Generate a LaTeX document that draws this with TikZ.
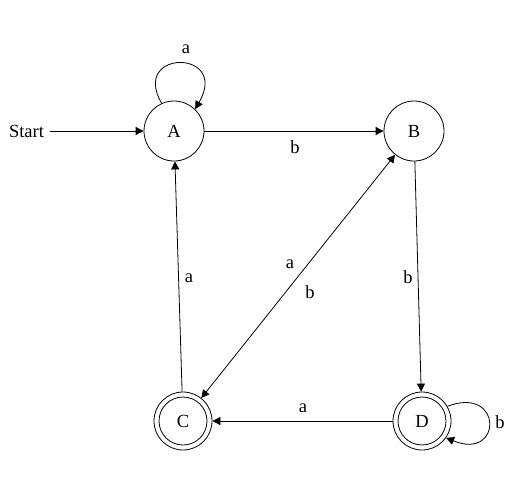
\documentclass[tikz,border=0pt]{standalone}
\usepackage{fontspec}
\setmainfont{Liberation Serif}
\usetikzlibrary{arrows.meta}
\begin{document}
\begin{tikzpicture}[x=1pt,y=-1pt,
  every node/.style={font=\fontsize{18.5}{22}\selectfont},
  ring/.style={draw,circle,inner sep=0pt,line width=0.8pt},
  lbl/.style={inner sep=0pt},
  edge/.style={line width=0.8pt,-{Triangle[length=8pt,width=8pt]}}]
\useasboundingbox (0,0) rectangle (532,480);
\fill[white] (0,0) rectangle (532,480);
\node[ring,minimum size=60pt] (A) at (174,131) {A};
\node[ring,minimum size=60pt] (B) at (414,131) {B};
\node[ring,minimum size=58pt] (C) at (183,421) {};
\node[ring,minimum size=48pt] (Ci) at (183,421) {C};
\node[ring,minimum size=58pt] (D) at (422,421) {};
\node[ring,minimum size=48pt] (Di) at (422,421) {D};
\node[lbl] (start) at (26.5,131) {Start};
\coordinate (s0) at (50,131);
\draw[edge] (s0) -- (A);
\draw[edge] (A) -- (B);
\draw[edge] (B) -- (D);
\draw[edge] (D) -- (C);
\draw[edge] (C) -- (A);
\draw[edge,{Triangle[length=8pt,width=8pt]}-{Triangle[length=8pt,width=8pt]}] (C) -- (B);
\draw[edge] (A.114) .. controls (130,49) and (230,49) .. (A.46);
\draw[edge] (D.30) .. controls (503,385) and (503,461) .. (D.-35);
\node[lbl] (la) at (186,49) {a};
\node[lbl] (lab) at (295,147) {b};
\node[lbl] (lbd) at (408,277) {b};
\node[lbl] (ldc) at (303,408) {a};
\node[lbl] (lca) at (189,278) {a};
\node[lbl] (lcb1) at (290,264) {a};
\node[lbl] (lcb2) at (310,292) {b};
\node[lbl] (ldd) at (500,422) {b};
\end{tikzpicture}
\end{document}
